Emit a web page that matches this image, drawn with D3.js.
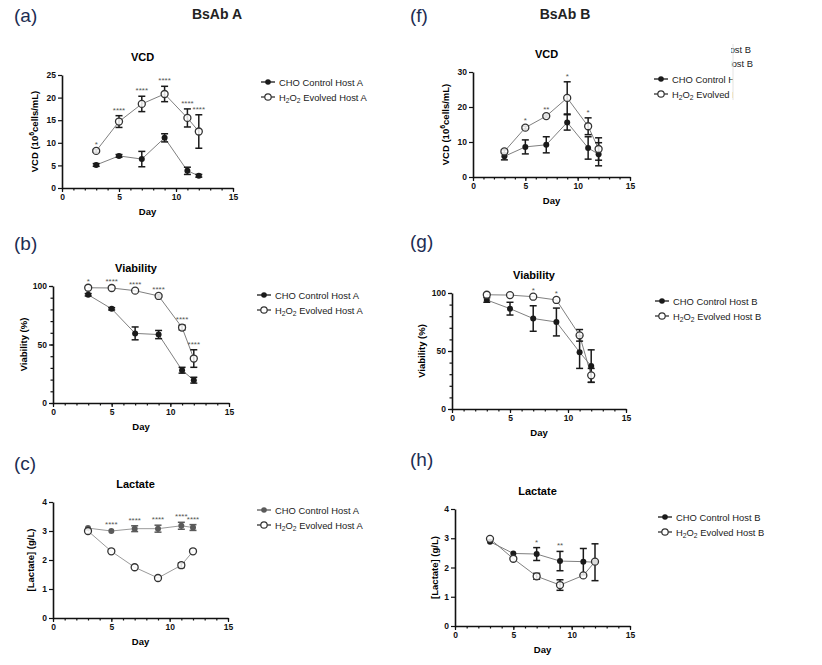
<!DOCTYPE html>
<html>
<head>
<meta charset="utf-8">
<script src="https://cdn.jsdelivr.net/npm/d3@7"></script>
<style>
body { margin: 0; background: #fff; }
text { font-family: "Liberation Sans", Arial, sans-serif; }
</style>
</head>
<body>
<svg id="chart" width="822" height="665"></svg>
<script>
const days = [3, 5, 7, 9, 11, 12];

// VCD, BsAb A
const vcdAControl = [5.1, 7.1, 6.4, 11.1, 3.8, 2.7];
const vcdAControlErr = [0.3, 0.3, 1.7, 0.9, 0.8, 0.3];
const vcdAEvolved = [8.2, 14.7, 18.6, 20.8, 15.5, 12.5];
const vcdAEvolvedErr = [0.3, 1.3, 1.7, 1.7, 2.0, 3.7];
const vcdAStars = ['*', '****', '****', '****', '****', '****'];

// VCD, BsAb B
const vcdBControl = [5.9, 8.6, 9.2, 15.6, 8.3, 6.5];
const vcdBControlErr = [1.0, 2.0, 2.3, 2.2, 3.2, 3.3];
const vcdBEvolved = [7.3, 14.1, 17.4, 22.6, 14.5, 8.0];
const vcdBEvolvedErr = [0.5, 0.4, 0.3, 4.6, 2.4, 3.2];
const vcdBStars = ['', '*', '**', '*', '*', ''];

// Viability, BsAb A
const viaAControl = [92.5, 80.5, 59.5, 58.5, 28, 19.5];
const viaAControlErr = [1, 1, 5.5, 3.5, 2.5, 2.5];
const viaAEvolved = [98.5, 98.3, 96, 91.5, 64.5, 38];
const viaAEvolvedErr = [0.5, 0.5, 0.5, 1, 2, 7.5];
const viaAStars = ['*', '****', '****', '****', '****', '****'];

// Viability, BsAb B
const viaBControl = [94, 86.5, 78, 75, 49, 37];
const viaBControlErr = [2, 5.5, 11, 12, 14, 14];
const viaBEvolved = [98.5, 98.2, 96.8, 94, 63.5, 29];
const viaBEvolvedErr = [0.5, 0.5, 0.5, 0.5, 5, 6];
const viaBStars = ['', '', '*', '*', '', ''];

// Lactate, BsAb A
const lacAControl = [3.1, 3.0, 3.08, 3.08, 3.18, 3.12];
const lacAControlErr = [0.03, 0.03, 0.1, 0.12, 0.12, 0.1];
const lacAEvolved = [3.0, 2.3, 1.75, 1.38, 1.82, 2.3];
const lacAEvolvedErr = [0.03, 0.03, 0.03, 0.03, 0.08, 0.03];
const lacAStars = ['', '****', '****', '****', '****', '****'];

// Lactate, BsAb B
const lacBControl = [2.88, 2.48, 2.46, 2.22, 2.2, 2.18];
const lacBControlErr = [0.03, 0.03, 0.22, 0.33, 0.45, 0.63];
const lacBEvolved = [2.98, 2.3, 1.7, 1.4, 1.73, 2.2];
const lacBEvolvedErr = [0.03, 0.03, 0.1, 0.18, 0.03, 0.03];
const lacBStars = ['', '', '*', '**', '', ''];

const xTicks = [0, 5, 10, 15];

const svg = d3.select('#chart');

const panels = [
	{ tag: '(a)', head: 'BsAb A', title: 'VCD', yLabel: 'vcd', yMax: 25, yTicks: [0, 5, 10, 15, 20, 25], yMinor: [],
		control: vcdAControl, controlErr: vcdAControlErr, evolved: vcdAEvolved, evolvedErr: vcdAEvolvedErr, stars: vcdAStars,
		host: 'A', x0: 62, x1: 233, y0: 188, y1: 75, tagY: 22, legX: 279, legY: 82, yLabX: 38 },
	{ tag: '(f)', head: 'BsAb B', title: 'VCD', yLabel: 'vcd', yMax: 30, yTicks: [0, 10, 20, 30], yMinor: [],
		control: vcdBControl, controlErr: vcdBControlErr, evolved: vcdBEvolved, evolvedErr: vcdBEvolvedErr, stars: vcdBStars,
		host: 'B', x0: 473, x1: 630, y0: 177, y1: 72, tagY: 22, legX: 672, legY: 79, yLabX: 449, clipLegend: true },
	{ tag: '(b)', title: 'Viability', yLabel: 'Viability (%)', yMax: 100, yTicks: [0, 50, 100], yMinor: d3.range(0, 101, 10),
		control: viaAControl, controlErr: viaAControlErr, evolved: viaAEvolved, evolvedErr: viaAEvolvedErr, stars: viaAStars,
		host: 'A', x0: 53, x1: 229, y0: 403, y1: 286, tagY: 250, legX: 275, legY: 295, yLabX: 27 },
	{ tag: '(g)', title: 'Viability', yLabel: 'Viability (%)', yMax: 100, yTicks: [0, 50, 100], yMinor: d3.range(0, 101, 10),
		control: viaBControl, controlErr: viaBControlErr, evolved: viaBEvolved, evolvedErr: viaBEvolvedErr, stars: viaBStars,
		host: 'B', x0: 452, x1: 626, y0: 409, y1: 293, tagY: 248, legX: 673, legY: 301, yLabX: 425 },
	{ tag: '(c)', title: 'Lactate', yLabel: '[Lactate] (g/L)', yMax: 4, yTicks: [0, 1, 2, 3, 4], yMinor: [],
		control: lacAControl, controlErr: lacAControlErr, evolved: lacAEvolved, evolvedErr: lacAEvolvedErr, stars: lacAStars,
		host: 'A', x0: 53, x1: 228, y0: 618, y1: 502, tagY: 470, legX: 275, legY: 510, yLabX: 34, grey: true },
	{ tag: '(h)', title: 'Lactate', yLabel: '[Lactate] (g/L)', yMax: 4, yTicks: [0, 1, 2, 3, 4], yMinor: [],
		control: lacBControl, controlErr: lacBControlErr, evolved: lacBEvolved, evolvedErr: lacBEvolvedErr, stars: lacBStars,
		host: 'B', x0: 455, x1: 630, y0: 626, y1: 509, tagY: 466, legX: 676, legY: 517, yLabX: 438 }
];

const defs = svg.append('defs');
defs.append('clipPath').attr('id', 'legClip')
	.append('rect').attr('x', 600).attr('y', 60).attr('width', 133).attr('height', 50);
defs.append('clipPath').attr('id', 'ghostClip')
	.append('rect').attr('x', 731).attr('y', 35).attr('width', 80).attr('height', 40);

function h2o2(sel, host) {
	sel.append('tspan').text('H');
	sel.append('tspan').attr('font-size', '0.72em').attr('dy', 2).text('2');
	sel.append('tspan').attr('dy', -2).text('O');
	sel.append('tspan').attr('font-size', '0.72em').attr('dy', 2).text('2');
	sel.append('tspan').attr('dy', -2).text(' Evolved Host ' + host);
}

panels.forEach(p => {
	const g = svg.append('g');
	const x = d3.scaleLinear().domain([0, 15]).range([p.x0, p.x1]);
	const y = d3.scaleLinear().domain([0, p.yMax]).range([p.y0, p.y1]);
	const cx = (p.x0 + p.x1) / 2 - 5;
	const dark = p.grey ? '#5a5a5a' : '#1a1a1a';

	// panel tag and heading
	svg.append('text')
		.attr('x', p.x0 < 300 ? 14 : 410).attr('y', p.tagY)
		.attr('font-family', '"Open Sans", sans-serif').attr('font-size', 19)
		.attr('fill', '#1d2d52')
		.text(p.tag);
	if (p.head) {
		svg.append('text')
			.attr('x', p.x0 < 300 ? 217 : 565).attr('y', 19)
			.attr('text-anchor', 'middle')
			.attr('font-family', '"Open Sans", sans-serif').attr('font-size', 14).attr('font-weight', 'bold')
			.attr('fill', '#222')
			.text(p.head);
	}

	g.append('text')
		.attr('x', cx).attr('y', p.y1 - 14)
		.attr('text-anchor', 'middle').attr('font-size', 11).attr('font-weight', 'bold')
		.text(p.title);

	// x axis
	const xAxis = g.append('g').attr('transform', `translate(0,${p.y0})`)
		.call(d3.axisBottom(x).tickValues(xTicks).tickSize(4).tickSizeOuter(0).tickPadding(2));
	g.append('g').attr('transform', `translate(0,${p.y0})`)
		.call(d3.axisBottom(x).tickValues(d3.range(0, 16)).tickSize(2.5).tickFormat(''))
		.select('.domain').remove();
	// y axis
	const yAxis = g.append('g').attr('transform', `translate(${p.x0},0)`)
		.call(d3.axisLeft(y).tickValues(p.yTicks).tickSize(4).tickSizeOuter(0).tickPadding(2).tickFormat(d3.format('d')));
	if (p.yMinor.length) {
		g.append('g').attr('transform', `translate(${p.x0},0)`)
			.call(d3.axisLeft(y).tickValues(p.yMinor).tickSize(2.5).tickFormat(''))
			.select('.domain').remove();
	}
	g.selectAll('.domain').attr('stroke', '#111').attr('stroke-width', 1.6);
	g.selectAll('.tick line').attr('stroke', '#111').attr('stroke-width', 1.2);
	[xAxis, yAxis].forEach(a => a.selectAll('.tick text')
		.attr('font-size', 8.5).attr('font-weight', 'bold').attr('fill', '#111')
		.attr('font-family', '"Liberation Sans", Arial, sans-serif'));

	g.append('text')
		.attr('x', cx + 5).attr('y', p.y0 + 27)
		.attr('text-anchor', 'middle').attr('font-size', 9.5).attr('font-weight', 'bold')
		.text('Day');

	const yl = g.append('text')
		.attr('transform', `translate(${p.yLabX},${(p.y0 + p.y1) / 2}) rotate(-90)`)
		.attr('text-anchor', 'middle').attr('font-size', 9.5).attr('font-weight', 'bold');
	if (p.yLabel === 'vcd') {
		yl.append('tspan').text('VCD (10');
		yl.append('tspan').attr('font-size', 7).attr('dy', -4).text('6');
		yl.append('tspan').attr('dy', 4).text('cells/mL)');
	} else {
		yl.text(p.yLabel);
	}

	// connecting lines
	const line = d3.line().x(d => x(d[0])).y(d => y(d[1]));
	[p.control, p.evolved].forEach(vals => {
		g.append('path').datum(days.map((d, i) => [d, vals[i]]))
			.attr('fill', 'none').attr('stroke', p.grey ? '#9a9a9a' : '#808080').attr('stroke-width', 1)
			.attr('d', line);
	});

	// error bars
	const drawErr = (vals, errs, color) => {
		days.forEach((d, i) => {
			if (errs[i] < 0.01 * p.yMax) return;
			const xx = x(d), ya = y(vals[i] - errs[i]), yb = y(vals[i] + errs[i]);
			const e = g.append('g').attr('stroke', color).attr('stroke-width', 1.5);
			e.append('line').attr('x1', xx).attr('x2', xx).attr('y1', ya).attr('y2', yb);
			e.append('line').attr('x1', xx - 3.5).attr('x2', xx + 3.5).attr('y1', ya).attr('y2', ya);
			e.append('line').attr('x1', xx - 3.5).attr('x2', xx + 3.5).attr('y1', yb).attr('y2', yb);
		});
	};
	drawErr(p.evolved, p.evolvedErr, '#1a1a1a');
	drawErr(p.control, p.controlErr, dark);

	// markers
	g.selectAll('.ctrl').data(days).join('circle')
		.attr('cx', d => x(d)).attr('cy', (d, i) => y(p.control[i])).attr('r', 3)
		.attr('fill', dark);
	g.selectAll('.evo').data(days).join('circle')
		.attr('cx', d => x(d)).attr('cy', (d, i) => y(p.evolved[i])).attr('r', 3.5)
		.attr('fill', '#fff').attr('fill-opacity', 0.85).attr('stroke', '#333').attr('stroke-width', 1.3);

	// significance stars
	days.forEach((d, i) => {
		if (!p.stars[i]) return;
		const top = Math.min(y(p.control[i] + p.controlErr[i]), y(p.evolved[i] + p.evolvedErr[i]));
		g.append('text')
			.attr('x', x(d)).attr('y', top - 3)
			.attr('text-anchor', 'middle').attr('font-size', 8).attr('fill', '#555')
			.text(p.stars[i]);
	});

	// legend
	const leg = g.append('g');
	if (p.clipLegend) leg.attr('clip-path', 'url(#legClip)');
	[0, 1].forEach(k => {
		const ly = p.legY + k * 15;
		const mx = p.legX - 11;
		leg.append('line').attr('x1', mx - 7).attr('x2', mx + 7).attr('y1', ly).attr('y2', ly)
			.attr('stroke', k === 0 ? dark : '#333').attr('stroke-width', 1.3);
		if (k === 0) {
			leg.append('circle').attr('cx', mx).attr('cy', ly).attr('r', 2.8).attr('fill', dark);
		} else {
			leg.append('circle').attr('cx', mx).attr('cy', ly).attr('r', 3.2)
				.attr('fill', '#fff').attr('stroke', '#333').attr('stroke-width', 1.2);
		}
		const t = leg.append('text').attr('x', p.legX).attr('y', ly + 3.5)
			.attr('font-size', 9.4).attr('fill', '#222');
		if (k === 0) t.text('CHO Control Host ' + p.host);
		else h2o2(t, p.host);
	});

	if (p.clipLegend) {
		const ghost = g.append('g').attr('clip-path', 'url(#ghostClip)');
		ghost.append('text').attr('x', 751).attr('y', 53).attr('text-anchor', 'end')
			.attr('font-size', 9.4).attr('fill', '#222').text('CHO Control Host B');
		const gt = ghost.append('text').attr('x', 753).attr('y', 67).attr('text-anchor', 'end')
			.attr('font-size', 9.4).attr('fill', '#222');
		h2o2(gt, 'B');
		g.append('line').attr('x1', 733).attr('x2', 733).attr('y1', 44).attr('y2', 100)
			.attr('stroke', '#ddd').attr('stroke-width', 0.8);
	}
});
</script>
</body>
</html>
